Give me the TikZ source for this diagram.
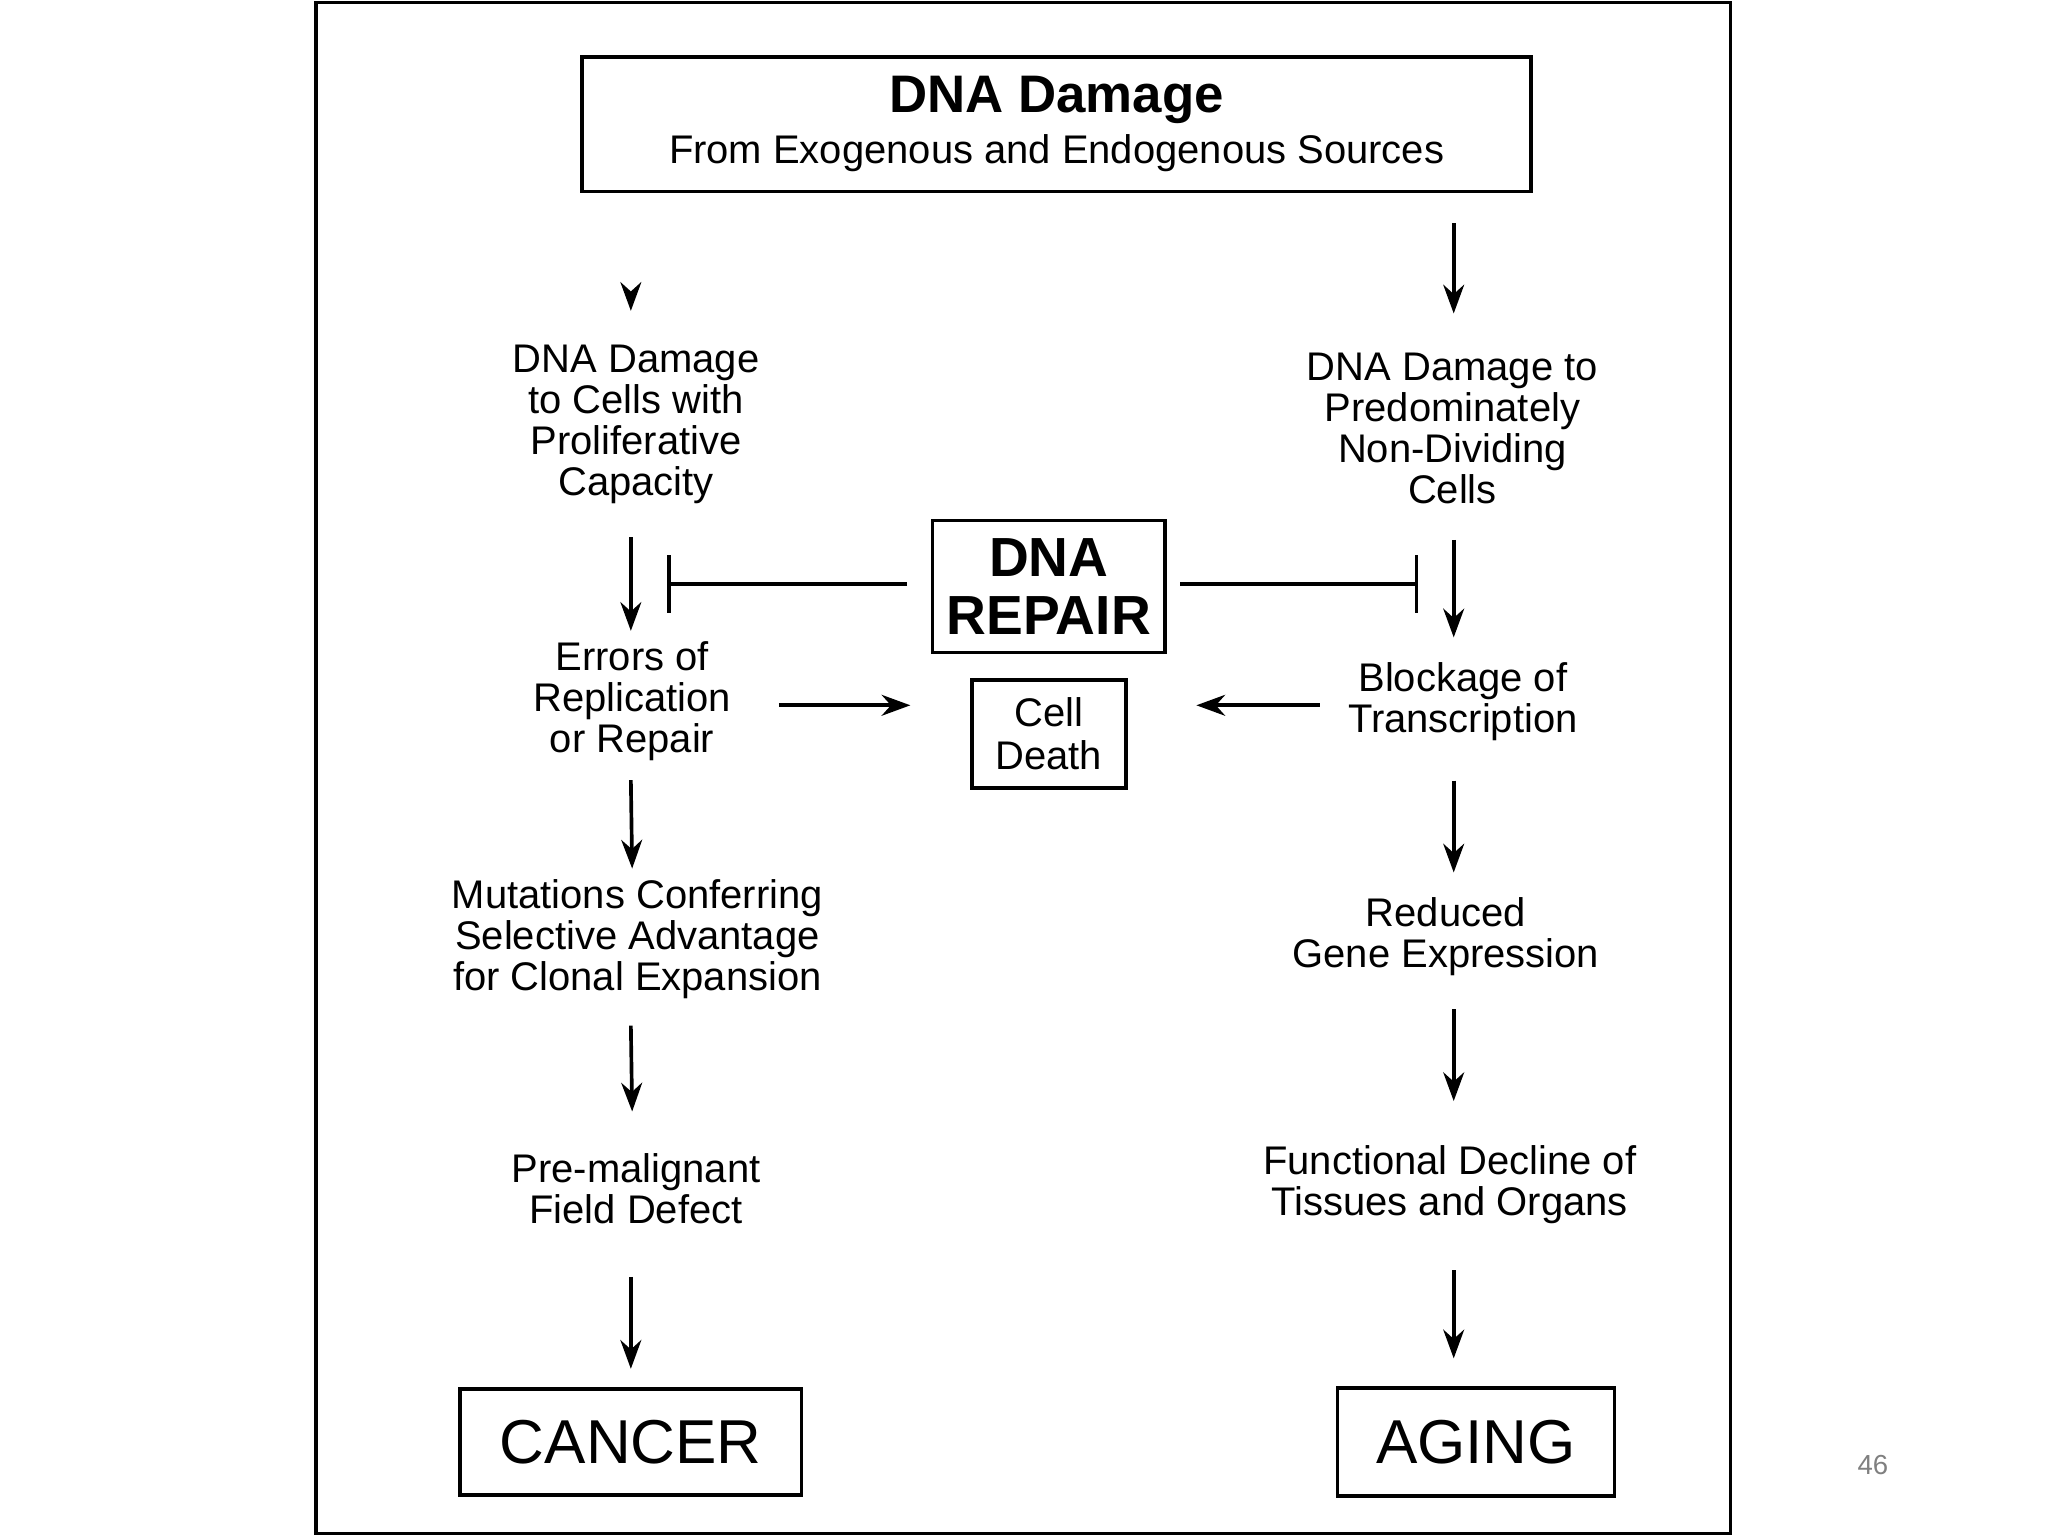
\documentclass[tikz,border=0pt]{standalone}
\usepackage{fontspec}
\setmainfont{Liberation Sans}
\usetikzlibrary{arrows.meta}
\tikzset{
  txt/.style={align=center, inner sep=0pt, font=\fontsize{8.7}{8.9}\selectfont},
  box/.style={draw, thick, align=center},
  arr/.style={-{Stealth[length=2.2mm,width=1.6mm]}, thick},
  blk/.style={-{Bar[width=4.4mm]}, thick}
}
\begin{document}
\begin{tikzpicture}[x=0.01cm, y=-0.01cm]
\useasboundingbox (0,0) rectangle (1568,1176);
\draw[thick] (242,2) rectangle (1325,1174);

  % top and centre boxes
  \node[box, minimum width=7.26cm, minimum height=1.03cm, inner sep=1pt] (top) at (809,95)
    {{\fontsize{11.5}{13}\selectfont\bfseries DNA Damage}\\[-1pt]{\fontsize{8.7}{10}\selectfont From Exogenous and Endogenous Sources}};
  \node[box, minimum width=1.78cm, minimum height=1.01cm, inner sep=1pt,
        font=\fontsize{12}{12.5}\selectfont\bfseries] (repair) at (803,449) {DNA\\REPAIR};
  \node[box, minimum width=1.18cm, minimum height=0.83cm, inner sep=1pt,
        font=\fontsize{8.7}{9.4}\selectfont] (death) at (803,562) {Cell\\Death};

  % left column
  \node[txt] (l1) at (487,325) {DNA Damage\\to Cells with\\Proliferative\\Capacity};
  \node[txt] (l2) at (484,537) {Errors of\\Replication\\or Repair};
  \node[txt] (l3) at (488,719) {Mutations Conferring\\Selective Advantage\\for Clonal Expansion};
  \node[txt] (l4) at (487,910) {Pre-malignant\\Field Defect};
  \node[box, minimum width=2.61cm, minimum height=0.81cm, inner sep=1pt,
        font=\fontsize{13.5}{14}\selectfont] (cancer) at (483,1104) {CANCER};

  % right column
  \node[txt] (r1) at (1112,328) {DNA Damage to\\Predominately\\Non-Dividing\\Cells};
  \node[txt] (r2) at (1120,537) {Blockage of\\Transcription};
  \node[txt] (r3) at (1107,717) {Reduced\\Gene Expression};
  \node[txt] (r4) at (1110,907) {Functional Decline of\\Tissues and Organs};
  \node[box, minimum width=2.12cm, minimum height=0.83cm, inner sep=1pt,
        font=\fontsize{13.5}{14}\selectfont] (aging) at (1130,1104) {AGING};

  \coordinate (la) at (483,0);
  \coordinate (ra) at (1113,0);

  % downward arrows
  \draw[arr, shorten <=21\pgflinewidth] (la |- top.south) ++(0,21) -- (483,238);
  \draw[arr] (ra |- top.south) ++(0,23) -- (1113,240);
  \draw[arr] (la |- l1.south) ++(0,25) -- (483,483);
  \draw[arr] (ra |- r1.south) ++(0,27) -- (1113,488);
  \draw[arr] (la |- l2.south) ++(0,14) -- (484,665);
  \draw[arr] (ra |- r2.south) ++(0,30) -- (1113,668);
  \draw[arr] (la |- l3.south) ++(0,20) -- (484,851);
  \draw[arr] (ra |- r3.south) ++(0,25) -- (1113,843);
  \draw[arr] (la |- l4.south) ++(0,40) -- (483,1048);
  \draw[arr] (ra |- r4.south) ++(0,35) -- (1113,1040);

  % repair inhibition
  \draw[blk] (repair.west) ++(-18,-2) -- (511,447);
  \draw[blk] (repair.east) ++(10,-2) -- (1086,447);

  % towards cell death
  \draw[arr] (l2.east) ++(36,3) -- (697,540);
  \draw[arr] (r2.west) ++(-21,3) -- (916,540);

  \node[text=gray, font=\fontsize{6}{7}\selectfont] (pg) at (1434,1122) {46};
\end{tikzpicture}
\end{document}
